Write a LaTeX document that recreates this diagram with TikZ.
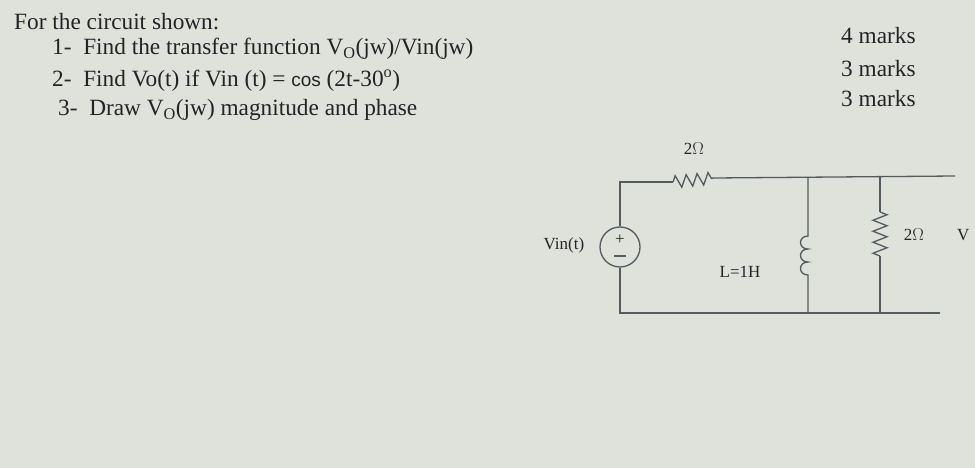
\documentclass[tikz,border=0pt]{standalone}
\usepackage{fontspec}
\setmainfont{Liberation Serif}
\usetikzlibrary{decorations.pathmorphing}
\definecolor{bg}{RGB}{222,226,218}
\definecolor{ink}{RGB}{35,35,40}
\definecolor{wire}{RGB}{85,90,95}
\begin{document}
\begin{tikzpicture}[x=1pt,y=-1pt,
  txt/.style={anchor=west,inner sep=0,text=ink,font=\fontsize{23.3}{26}\selectfont},
  ctxt/.style={inner sep=0,text=ink,font=\fontsize{17}{20}\selectfont},
  w/.style={draw=wire,line width=1.3pt}]
\fill[bg] (0,0) rectangle (975,468);
\useasboundingbox (0,0) rectangle (975,468);
\node[txt] (t0) at (14,22) {For the circuit shown:};
\node[txt] (t1) at (52,49) {1-\ \ Find the transfer function V\textsubscript{O}(jw)/Vin(jw)};
\node[txt] (t2) at (52,81) {2-\ \ Find Vo(t) if Vin (t) = {\fontspec{Liberation Sans}\fontsize{19}{22}\selectfont cos} (2t-30\textsuperscript{o})};
\node[txt] (t3) at (58,110) {3-\ \ Draw V\textsubscript{O}(jw) magnitude and phase};
\node[txt] (m1) at (841,36) {4 marks};
\node[txt] (m2) at (841,69) {3 marks};
\node[txt] (m3) at (841,99) {3 marks};
% circuit
\node[circle,draw=wire,line width=1.3pt,minimum size=40pt,inner sep=0] (src) at (620,247) {};
\node[ctxt,font=\fontsize{17}{18}\selectfont] at (620,240) {+};
\draw[wire,line width=1.2pt] (614,256)--(626,256);
\coordinate (tl) at (620,182);
\coordinate (bl) at (620,313);
\coordinate (r1a) at (673,182);
\coordinate (r1b) at (714,178);
\coordinate (tr) at (955,176);
\coordinate (br) at (940,313);
\coordinate (lt) at (808,177);
\coordinate (lb) at (808,312);
\coordinate (rt) at (880,176);
\coordinate (rb) at (880,312);
\draw[w] (src.north) -- (tl) -- (r1a);
\draw[w,decoration={zigzag,segment length=11pt,amplitude=6pt},decorate] (r1a) -- (r1b);
\draw[w] (r1b) -- (tr);
\draw[w] (src.south) -- (bl) -- (br);
\draw[w] (lt) -- (808,236)
  .. controls (798,236) and (798,249) .. (808,249)
  .. controls (798,249) and (798,262) .. (808,262)
  .. controls (798,262) and (798,275) .. (808,275) -- (lb);
\draw[w] (rt) -- (880,212);
\draw[w,decoration={zigzag,segment length=11pt,amplitude=7pt},decorate] (880,212) -- (880,256);
\draw[w] (880,256) -- (rb);
\node[ctxt] (lr1) at (694,149) {2$\Omega$};
\node[ctxt] (lL) at (740,272) {L=1H};
\node[ctxt] (lr2) at (914,235) {2$\Omega$};
\node[ctxt,anchor=west] (lvo) at (957,235) {V};
\node[ctxt] (lvin) at (564,245) {Vin(t)};
\end{tikzpicture}
\end{document}
